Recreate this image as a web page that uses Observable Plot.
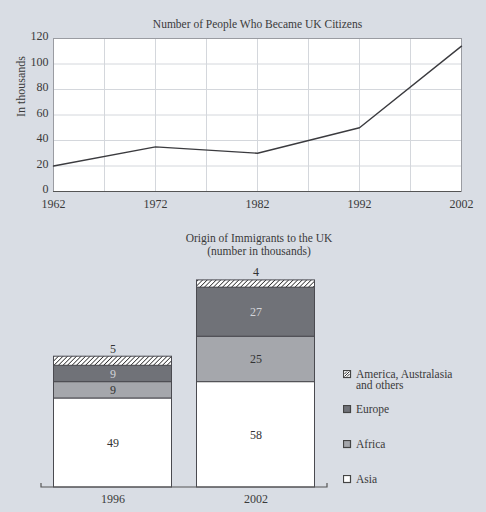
<!DOCTYPE html>
<html>
<head>
<meta charset="utf-8">
<script src="https://cdn.jsdelivr.net/npm/d3@7"></script>
<script src="https://cdn.jsdelivr.net/npm/@observablehq/plot@0.6"></script>
<style>
  html, body { margin: 0; padding: 0; background: #d9dde4; }
  #wrap { position: relative; width: 486px; height: 512px; overflow: hidden; font-family: "Liberation Serif", "DejaVu Serif", serif; color: #3a3a3a; }
  #c1 { position: absolute; left: 0; top: 0; }
  #c2 { position: absolute; left: 0; top: 215px; }
  .title2 { position: absolute; left: 159px; width: 200px; text-align: center; font-size: 11.5px; line-height: 13px; top: 232px; }
  .leg { position: absolute; left: 343px; font-size: 11.5px; line-height: 10.5px; }
  .leg svg { position: absolute; left: 0; top: 1px; }
  .leg span { position: absolute; left: 13px; top: 0; white-space: nowrap; }
</style>
</head>
<body>
<div id="wrap">
  <div id="c1"></div>
  <div id="c2"></div>
  <div class="title2">Origin of Immigrants to the UK<br>(number in thousands)</div>
  <div id="legend"></div>
</div>
<script>
// ---- Data: line chart ----
const years = [1962, 1972, 1982, 1992, 2002];
const citizens = [20, 35, 30, 50, 114];
const yTicks = [0, 20, 40, 60, 80, 100, 120];
const xTicks = [1962, 1972, 1982, 1992, 2002];
const gridYears = [1962, 1967, 1972, 1977, 1982, 1987, 1992, 1997, 2002];

// ---- Data: stacked bars ----
const barYears = ["1996", "2002"];
const origins = ["Asia", "Africa", "Europe", "America, Australasia and others"];
const asia = [49, 58];
const africa = [9, 25];
const europe = [9, 27];
const others = [5, 4];

const lineData = years.map((y, i) => ({year: y, value: citizens[i]}));
const seriesByOrigin = [asia, africa, europe, others];
const barData = [];
barYears.forEach((yr, j) => {
  origins.forEach((o, k) => barData.push({year: yr, origin: o, value: seriesByOrigin[k][j]}));
});

const FONT = '"Liberation Serif", "DejaVu Serif", serif';

// ---- Chart 1 ----
const c1 = Plot.plot({
  width: 486, height: 215,
  marginTop: 38, marginBottom: 24, marginLeft: 53, marginRight: 25,
  style: {background: "transparent", fontFamily: FONT, fontSize: "12px", color: "#3a3a3a"},
  x: {domain: [1962, 2002]},
  y: {domain: [0, 120]},
  marks: [
    Plot.frame({fill: "white", stroke: null}),
    Plot.ruleX(gridYears, {stroke: "#d4d7dc", strokeWidth: 1}),
    Plot.ruleY(yTicks, {stroke: "#d4d7dc", strokeWidth: 1}),
    Plot.frame({stroke: "#9a9ca2", strokeWidth: 1}),
    Plot.ruleY([0], {stroke: "#555", strokeWidth: 1.2}),
    Plot.line(lineData, {x: "year", y: "value", stroke: "#3b3b3f", strokeWidth: 1.4}),
    Plot.axisY({ticks: yTicks, tickSize: 0, tickPadding: 5, label: null, fontSize: 12, dy: -2}),
    Plot.axisX({ticks: xTicks, tickSize: 0, tickPadding: 8, tickFormat: d => String(d), label: null, fontSize: 12}),
    Plot.text(["In thousands"], {frameAnchor: "left", dx: -32, dy: 2, rotate: -90, fontSize: 12, fill: "#3a3a3a"}),
    Plot.text(["Number of People Who Became UK Citizens"], {frameAnchor: "top", dy: -19, fontSize: 11.5, fill: "#3a3a3a"})
  ]
});
document.getElementById("c1").appendChild(c1);

// ---- Chart 2 ----
const fills = ["#ffffff", "#a5a7ac", "#707278", "url(#hatch)"];
const bracket = (index, scales, values, dim) => {
  const y0 = scales.y(0);
  const g = d3.create("svg:path")
    .attr("d", `M${dim.marginLeft},${y0 - 4}V${y0}H${dim.width - dim.marginRight}V${y0 - 4}`)
    .attr("fill", "none").attr("stroke", "#555").attr("stroke-width", 1.2);
  return g.node();
};
const c2 = Plot.plot({
  width: 486, height: 297,
  marginTop: 54, marginBottom: 25, marginLeft: 41, marginRight: 159,
  style: {background: "transparent", fontFamily: FONT, fontSize: "12px", color: "#3a3a3a"},
  x: {domain: barYears, paddingInner: 0.17, paddingOuter: 0.085},
  y: {domain: [0, 120], axis: null},
  color: {domain: origins, range: fills},
  marks: [
    Plot.barY(barData, Plot.stackY({x: "year", y: "value", fill: "origin", stroke: "#4a4a50", strokeWidth: 1, insetLeft: 0.5, insetRight: 0.5})),
    Plot.text(barData, Plot.stackY({x: "year", y: "value", text: d => (d.origin === "Asia" || d.origin === "Africa") ? String(d.value) : null, fill: "#333", fontSize: 12})),
    Plot.text(barData, Plot.stackY({x: "year", y: "value", text: d => d.origin === "Europe" ? String(d.value) : null, fill: "#d2d4d8", fontSize: 12})),
    Plot.text(barData, Plot.stackY2({x: "year", y: "value", text: d => d.origin === origins[3] ? String(d.value) : null, dy: -8, fill: "#333", fontSize: 12})),
    bracket,
    Plot.axisX({tickSize: 0, tickPadding: 7, label: null, fontSize: 12})
  ]
});
const defs = d3.select(c2).insert("defs", ":first-child");
const pat = defs.append("pattern").attr("id", "hatch").attr("patternUnits", "userSpaceOnUse")
  .attr("width", 3.2).attr("height", 3.2).attr("patternTransform", "rotate(45)");
pat.append("rect").attr("width", 3.2).attr("height", 3.2).attr("fill", "white");
pat.append("line").attr("x1", 0).attr("y1", 0).attr("x2", 0).attr("y2", 3.2).attr("stroke", "#333").attr("stroke-width", 1.6);
document.getElementById("c2").appendChild(c2);

// ---- Legend ----
const legendItems = [
  {label: "America, Australasia<br>and others", fill: 3, top: 369},
  {label: "Europe", fill: 2, top: 404},
  {label: "Africa", fill: 1, top: 439},
  {label: "Asia", fill: 0, top: 474}
];
const leg = document.getElementById("legend");
legendItems.forEach(it => {
  const d = document.createElement("div");
  d.className = "leg";
  d.style.top = it.top + "px";
  let sw;
  if (it.fill === 3) {
    sw = `<svg width="9" height="9"><rect x="0.5" y="0.5" width="7" height="7" fill="white" stroke="#444" stroke-width="1.2"/><path d="M1.5,6.5L6.5,1.5M1.5,4L4,1.5M4,6.5L6.5,4" stroke="#333" stroke-width="1"/></svg>`;
  } else {
    sw = `<svg width="9" height="9"><rect x="0.5" y="0.5" width="7" height="7" fill="${fills[it.fill]}" stroke="#444" stroke-width="1.2"/></svg>`;
  }
  d.innerHTML = sw + `<span>${it.label}</span>`;
  leg.appendChild(d);
});
</script>
</body>
</html>
